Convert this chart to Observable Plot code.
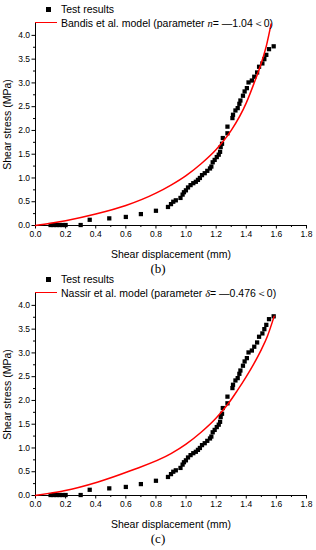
<!DOCTYPE html>
<html><head><meta charset="utf-8">
<script src="https://cdn.jsdelivr.net/npm/d3@7"></script>
<script src="https://cdn.jsdelivr.net/npm/@observablehq/plot@0.6"></script>
<style>
body{margin:0;background:#fff;font-family:Arial,"Liberation Sans",sans-serif;}
#wrap{position:relative;width:316px;height:550px;overflow:hidden;}
.panel{position:absolute;left:0;width:316px;}
.sq{position:absolute;width:5px;height:5px;background:#000;}
.ln{position:absolute;width:22px;height:0;border-top:1.6px solid #f00;}
.cap{position:absolute;left:0;width:316px;text-align:center;font-family:"Liberation Serif","DejaVu Serif",serif;font-size:13px;line-height:16px;}
</style>
</head><body>
<div id="wrap"></div>
<script>
// Test results (shear displacement mm, shear stress MPa)
const testDisp = [0.10,0.12,0.14,0.16,0.18,0.20,0.30,0.36,0.49,0.60,0.70,0.80,0.88,0.90,0.915,0.932,0.963,0.977,0.986,0.999,1.013,1.03,1.048,1.065,1.079,1.092,1.106,1.124,1.141,1.159,1.168,1.177,1.19,1.204,1.217,1.226,1.23,1.239,1.244,1.275,1.275,1.308,1.312,1.328,1.343,1.354,1.361,1.378,1.389,1.404,1.415,1.437,1.453,1.472,1.485,1.507,1.52,1.533,1.551,1.582];
const testStress = [0.01,0.01,0.01,0.01,0.01,0.01,0.01,0.12,0.15,0.18,0.24,0.31,0.39,0.45,0.50,0.53,0.58,0.65,0.70,0.74,0.80,0.85,0.89,0.92,0.96,1.00,1.06,1.10,1.15,1.20,1.24,1.33,1.38,1.44,1.49,1.55,1.65,1.72,1.84,1.94,2.08,2.26,2.33,2.42,2.47,2.56,2.63,2.73,2.82,2.89,3.01,3.05,3.13,3.22,3.34,3.41,3.50,3.59,3.71,3.77];
// Bandis et al. model curve
const bandisX = [0,0.1,0.2,0.4,0.6,0.8,0.9,1.0,1.1,1.2,1.3,1.4,1.45,1.5,1.535,1.565];
const bandisY = [0,0.045,0.1,0.24,0.42,0.68,0.85,1.05,1.3,1.6,2.0,2.58,2.98,3.42,3.8,4.24];
// Nassir et al. model curve
const nassirX = [0,0.1,0.19,0.41,0.63,0.9,1.0,1.1,1.2,1.28,1.339,1.4,1.45,1.5,1.539,1.585];
const nassirY = [0,0.05,0.1,0.28,0.52,0.88,1.08,1.33,1.63,1.93,2.2,2.5,2.77,3.07,3.34,3.77];
// Axis ticks
const xTicks = [0,0.2,0.4,0.6,0.8,1.0,1.2,1.4,1.6,1.8];
const xMinor = [0.1,0.3,0.5,0.7,0.9,1.1,1.3,1.5,1.7];
const yTicks = [0,0.5,1.0,1.5,2.0,2.5,3.0,3.5,4.0];
const yMinor = [0.25,0.75,1.25,1.75,2.25,2.75,3.25,3.75];

const test = testDisp.map((x,i)=>({x, y: testStress[i]}));
const bandis = bandisX.map((x,i)=>({x, y: bandisY[i]}));
const nassir = nassirX.map((x,i)=>({x, y: nassirY[i]}));
const fmt = d3.format(".1f");

function panel(model) {
  return Plot.plot({
    width: 316, height: 262,
    marginLeft: 35, marginRight: 10, marginTop: 23, marginBottom: 37,
    x: {domain: [0, 1.8]},
    y: {domain: [0, 4.25]},
    style: {fontFamily: "Arial, 'Liberation Sans', sans-serif", background: "transparent", color: "#000"},
    marks: [
      Plot.axisX({ticks: xMinor, tickSize: 2, fill: "none"}),
      Plot.axisX({ticks: xTicks, tickSize: 3.5, tickPadding: 2, tickFormat: fmt, fontSize: 8.5, label: null}),
      Plot.axisX({ticks: [], tickSize: 0, label: "Shear displacement (mm)", labelAnchor: "center", labelArrow: "none", labelOffset: 32, fontSize: 10.5}),
      Plot.axisY({ticks: yMinor, tickSize: 2, fill: "none"}),
      Plot.axisY({ticks: yTicks, tickSize: 3.5, tickPadding: 2, tickFormat: fmt, fontSize: 8.5, label: null}),
      Plot.axisY({ticks: [], tickSize: 0, label: "Shear stress (MPa)", labelAnchor: "center", labelArrow: "none", labelOffset: 32, fontSize: 10.5}),
      Plot.ruleX([0], {stroke: "#000"}),
      Plot.ruleY([0], {stroke: "#000"}),
      Plot.dot(test, {x: "x", y: "y", symbol: "square", r: 2.4, fill: "#000", stroke: null}),
      Plot.line(model, {x: "x", y: "y", stroke: "#f00", strokeWidth: 1.5, curve: "monotone-x"})
    ]
  });
}

const wrap = document.getElementById("wrap");
const legFont = "position:absolute;font-family:Arial,'Liberation Sans',sans-serif;font-size:10.5px;white-space:nowrap;line-height:12px;color:#000;";
function addPanel(top, model, legendHTML, cap) {
  const p = document.createElement("div");
  p.className = "panel"; p.style.top = top + "px";
  p.appendChild(panel(model));
  wrap.appendChild(p);
  const add = (cls, css, html) => {
    const d = document.createElement("div");
    if (cls) d.className = cls;
    d.style.cssText = css; if (html) d.innerHTML = html;
    wrap.appendChild(d);
  };
  add("sq", `left:46px;top:${top+6.5}px;`);
  add("", legFont + `left:61px;top:${top+3}px;`, "Test results");
  add("ln", `left:35px;top:${top+22}px;`);
  add("", legFont + `left:61px;top:${top+16.5}px;`, legendHTML);
  add("cap", `top:${top+261}px;`, cap);
}
addPanel(0, bandis, 'Bandis et al. model (parameter <i style="font-family:\'Liberation Serif\',serif">n</i>= —1.04＜0)', "(b)");
addPanel(270, nassir, 'Nassir et al. model (parameter <i style="font-family:\'Liberation Serif\',serif">δ</i>= —0.476＜0)', "(c)");
</script>
</body></html>
